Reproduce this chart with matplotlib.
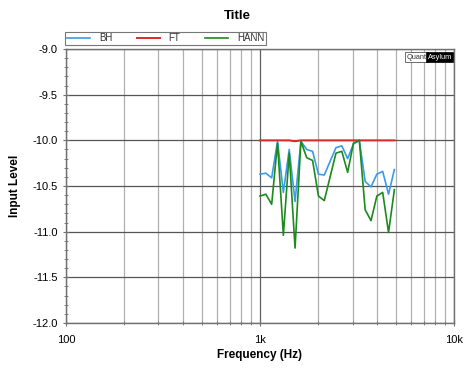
import matplotlib
matplotlib.use('Agg')
import matplotlib.pyplot as plt
from matplotlib.ticker import FixedLocator, FuncFormatter, MultipleLocator
import numpy as np

plt.rcParams['font.family'] = ['Liberation Sans', 'DejaVu Sans']

# 1/10 octave steps starting at 1 kHz
freqs = [1000.0 * 2 ** (k / 10) for k in range(24)]

bh = [-10.37, -10.36, -10.41, -10.01, -10.57, -10.10, -10.67, -10.01,
      -10.10, -10.12, -10.37, -10.38, -10.23, -10.08, -10.06, -10.20,
      -10.04, -10.00, -10.45, -10.51, -10.37, -10.34, -10.59, -10.32]
ft = [-10.00, -10.00, -10.00, -10.00, -10.00, -10.00, -10.01, -10.00,
      -10.00, -10.00, -10.00, -10.00, -10.00, -10.00, -10.00, -10.00,
      -10.00, -10.00, -10.00, -10.00, -10.00, -10.00, -10.00, -10.00]
hann = [-10.61, -10.59, -10.70, -10.03, -11.04, -10.14, -11.18, -10.01,
        -10.19, -10.22, -10.61, -10.66, -10.40, -10.14, -10.12, -10.35,
        -10.03, -10.00, -10.76, -10.88, -10.61, -10.57, -11.01, -10.54]

x_major = [100, 1000, 10000]
x_labels = {100: '100', 1000: '1k', 10000: '10k'}
y_min, y_max = -12.0, -9.0

fig = plt.figure(figsize=(4.74, 3.72), dpi=100)
ax = fig.add_axes([0.139, 0.132, 0.819, 0.736])

ax.plot(freqs, bh, color='#3a9be8', lw=1.2, label='BH')
ax.plot(freqs, ft, color='#e02828', lw=1.4, label='FT')
ax.plot(freqs, hann, color='#1c8a1c', lw=1.2, label='HANN')

ax.set_xscale('log')
ax.set_xlim(100, 10000)
ax.set_ylim(y_min, y_max)

minor = [m * d for d in (100, 1000) for m in range(2, 10)]
ax.xaxis.set_major_locator(FixedLocator(x_major))
ax.xaxis.set_minor_locator(FixedLocator(minor))
ax.xaxis.set_major_formatter(FuncFormatter(lambda v, p: x_labels.get(int(round(v)), '')))
ax.xaxis.set_minor_formatter(FuncFormatter(lambda v, p: ''))

ax.yaxis.set_major_locator(MultipleLocator(0.5))
ax.yaxis.set_minor_locator(MultipleLocator(0.1))
ax.yaxis.set_major_formatter(FuncFormatter(lambda v, p: '%.1f' % v))

ax.grid(True, which='major', axis='y', color='#555555', lw=0.9)
ax.grid(True, which='major', axis='x', color='#606060', lw=0.9)
ax.grid(True, which='minor', axis='x', color='#b0b0b0', lw=0.9)
ax.set_axisbelow(True)

for s in ax.spines.values():
    s.set_color('#707070')
    s.set_linewidth(1.0)

ax.tick_params(axis='both', which='both', colors='#707070', labelcolor='black',
               labelsize=8, direction='inout')
ax.tick_params(axis='both', which='major', length=5)
ax.tick_params(axis='both', which='minor', length=3)
ax.tick_params(axis='x', pad=6)

ax.set_xlabel('Frequency (Hz)', fontsize=8.5, fontweight='bold', labelpad=3)
ax.set_ylabel('Input Level', fontsize=8.5, fontweight='bold', labelpad=8)
fig.text(0.5, 0.958, 'Title', ha='center', va='center', fontsize=9.5, fontweight='bold')

leg = fig.legend(loc='lower left', bbox_to_anchor=(0.138, 0.880), ncol=3,
                 fontsize=7, frameon=True, fancybox=False, handlelength=2.4,
                 handletextpad=0.9, columnspacing=2.5, borderpad=0.15,
                 borderaxespad=0)
leg.get_frame().set_edgecolor('#555555')
leg.get_frame().set_linewidth(0.8)
for t in leg.get_texts():
    t.set_color('#333333')

# watermark
ax.text(0.929, 0.971, 'Quant', transform=ax.transAxes, ha='right', va='center',
        fontsize=5.3, color='#333333',
        bbox=dict(boxstyle='square,pad=0.15', fc='white', ec='#333333', lw=0.5))
ax.text(0.9315, 0.971, 'Asylum', transform=ax.transAxes, ha='left', va='center',
        fontsize=5.3, color='white',
        bbox=dict(boxstyle='square,pad=0.15', fc='black', ec='black', lw=0.5))

fig.savefig('out.png', dpi=100)
